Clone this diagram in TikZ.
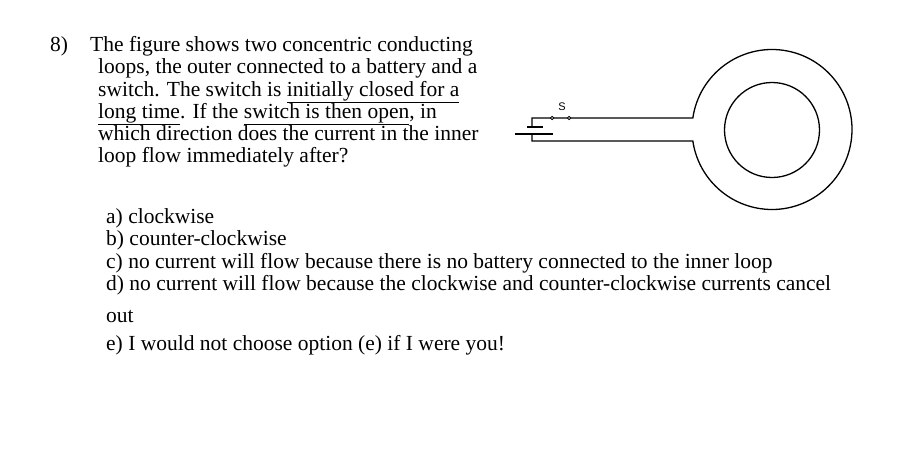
\documentclass[tikz,border=0pt]{standalone}
\usepackage{fontspec}
\setmainfont{Liberation Serif}
\newfontfamily\sansf{Liberation Sans}
\begin{document}
\begin{tikzpicture}[x=1pt,y=-1pt,
  txt/.style={anchor=base west,inner sep=0pt,font=\fontsize{21.5}{22}\selectfont},
  wire/.style={line width=1.3pt},
  dot/.style={circle,draw,fill=gray!60,inner sep=0pt,minimum size=3.5pt,line width=0.7pt}]
\useasboundingbox (0,0) rectangle (915,452);
\node[txt] (n8) at (50,52) {8)};
\node[txt] (l1) at (90,52) {The figure shows two concentric conducting};
\node[txt] (l2) at (98,74) {loops, the outer connected to a battery and a};
\node[txt] (l3) at (98,96) {switch. The switch is \underline{initially closed for a}};
\node[txt] (l4) at (98,118) {\underline{long time}. If the \underline{switch is then open}, in};
\node[txt] (l5) at (98,140) {which direction does the current in the inner};
\node[txt] (l6) at (98,162) {loop flow immediately after?};
\node[txt] (a) at (106,223) {a) clockwise};
\node[txt] (b) at (106,245) {b) counter-clockwise};
\node[txt] (c) at (106,268) {c) no current will flow because there is no battery connected to the inner loop};
\node[txt] (d) at (106,290) {d) no current will flow because the clockwise and counter-clockwise currents cancel};
\node[txt] (o) at (106,322) {out};
\node[txt] (e) at (106,350) {e) I would not choose option (e) if I were you!};
% circuit
\coordinate (c0) at (772,130);
\draw[wire] (c0) circle (47.5);
\pgfmathsetmacro{\ang}{asin(11.5/80)}
\pgfmathsetmacro{\xa}{772-80*cos(\ang)}
\draw[wire] (532,127) -- (532,118) -- (552,118) -- (569,118) -- (\xa,118)
  arc (180+\ang:540-\ang:80) -- (532,141) -- (532,134);
\draw[wire] (527,127) -- (543,127);
\draw[wire] (515,134) -- (553,134);
\node[dot] (s1) at (552,118) {};
\node[dot] (s2) at (569,118) {};
\node[font=\sansf\fontsize{11}{11}\selectfont,inner sep=0pt] (S) at (562,107) {S};
\end{tikzpicture}
\end{document}
